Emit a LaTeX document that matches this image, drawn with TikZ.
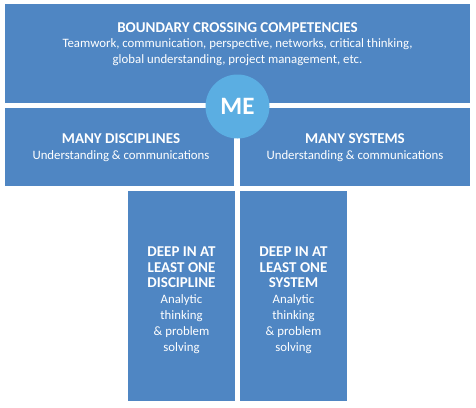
\documentclass[tikz,border=0pt]{standalone}
\usepackage{fontspec}
\setmainfont{Carlito}
\usepackage{xcolor}
\usepackage{tikz}
\definecolor{boxblue}{HTML}{4F86C3}
\definecolor{meblue}{HTML}{5BAEE2}
\newcommand{\hd}[1]{{\fontsize{15}{16}\selectfont\bfseries #1}}
\tikzset{block/.style={fill=boxblue,draw=none,inner sep=0pt},
txt/.style={text=white,align=center,font=\fontsize{12.8}{15.8}\selectfont}}
\begin{document}
\begin{tikzpicture}[x=1pt,y=-1pt]
\useasboundingbox (0,0) rectangle (476,407);
\node[block,minimum width=465pt,minimum height=99pt](top) at (237.5,53.5){};
\node[block,minimum width=229pt,minimum height=78pt](discipl) at (119.5,147){};
\node[block,minimum width=230pt,minimum height=78pt](systems) at (355,147){};
\node[block,minimum width=107pt,minimum height=210pt](deepdis) at (181.5,296){};
\node[block,minimum width=107pt,minimum height=210pt](deepsys) at (293.5,296){};
\node[txt](toptxt) at (237.5,44){\hd{BOUNDARY CROSSING COMPETENCIES}\\Teamwork, communication, perspective, networks, critical thinking,\\global understanding, project management, etc.};
\node[txt](disciptxt) at (121,148){\hd{MANY DISCIPLINES}\\Understanding \& communications};
\node[txt](systtxt) at (355,148){\hd{MANY SYSTEMS}\\Understanding \& communications};
\node[txt](deepdistxt) at (181.5,300){\hd{DEEP IN AT}\\\hd{LEAST ONE}\\\hd{DISCIPLINE}\\Analytic\\thinking\\\& problem\\solving};
\node[txt](deepsystxt) at (293.5,300){\hd{DEEP IN AT}\\\hd{LEAST ONE}\\\hd{SYSTEM}\\Analytic\\thinking\\\& problem\\solving};
\node[circle,fill=meblue,minimum size=64pt,inner sep=0pt,text=white,font=\fontsize{25}{27}\selectfont\bfseries](me) at (237.5,106.5){ME};
\end{tikzpicture}
\end{document}
